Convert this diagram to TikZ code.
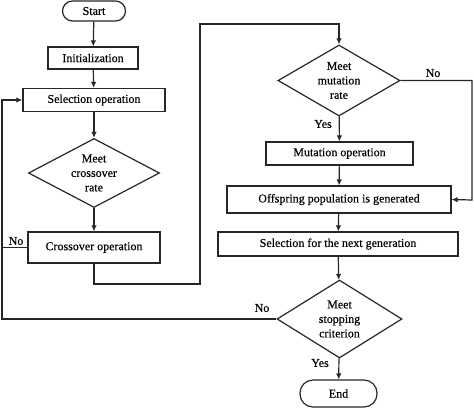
\documentclass[tikz,border=0pt]{standalone}
\usepackage{fontspec}
\setmainfont{Liberation Serif}[FakeBold=0.35]
\usetikzlibrary{shapes.geometric,arrows.meta}
\begin{document}
\begin{tikzpicture}[x=1pt,y=-1pt,
  every node/.style={font=\fontsize{12}{14.5}\selectfont},
  base/.style={draw=black!85,line width=1.2pt,inner sep=0pt,align=center},
  procbox/.style={base,rectangle},
  termbox/.style={base,rectangle,rounded corners=10pt},
  decbox/.style={base,diamond,aspect=1.8},
  conn/.style={draw=black!85,line width=1.2pt},
  arr/.style={conn,-{Latex[length=6pt,width=5.5pt]}},
  lbl/.style={inner sep=0pt}]
\useasboundingbox (0,0) rectangle (474,408);
\node[termbox,minimum width=63pt,minimum height=20pt] (start) at (94,11) {Start};
\node[procbox,minimum width=90pt,minimum height=22pt] (init) at (93,58) {Initialization};
\node[procbox,minimum width=142pt,minimum height=23pt] (sel) at (94,100) {Selection operation};
\node[decbox,minimum width=131pt,minimum height=69pt] (cross) at (94,173) {Meet\\crossover\\rate};
\node[procbox,minimum width=132pt,minimum height=31pt] (crossop) at (94,247.5) {Crossover operation};
\node[decbox,minimum width=122pt,minimum height=71pt] (mut) at (339,80.5) {Meet\\mutation\\rate};
\node[procbox,minimum width=147pt,minimum height=23pt] (mutop) at (339.5,153.5) {Mutation operation};
\node[procbox,minimum width=224pt,minimum height=27pt] (offs) at (339,199.5) {Offspring population is generated};
\node[procbox,minimum width=240pt,minimum height=24pt] (selnext) at (338,244) {Selection for the next generation};
\node[decbox,minimum width=125pt,minimum height=78pt] (stop) at (339.5,319) {Meet\\stopping\\criterion};
\node[termbox,minimum width=77pt,minimum height=27pt,rounded corners=13pt] (end) at (338.5,393.5) {End};
\coordinate (lb) at (2,247.5);
\coordinate (lbot) at (2,319);
\coordinate (ltop) at (2,100);
\coordinate (c1) at (94,284);
\coordinate (c2) at (200,284);
\coordinate (c3) at (200,24);
\coordinate (c4) at (339,24);
\coordinate (m1) at (472,80.5);
\coordinate (m2) at (472,200);
\node[lbl] (no1) at (16,241) {No};
\node[lbl] (no2) at (262,308) {No};
\node[lbl] (no3) at (433,73) {No};
\node[lbl] (yes1) at (323,124) {Yes};
\node[lbl] (yes2) at (320,363) {Yes};
\draw[arr] (start) -- (init);
\draw[arr] (init) -- (sel);
\draw[arr] (sel) -- (cross);
\draw[arr] (cross) -- (crossop);
\draw[conn] (crossop.west) -- (lb);
\draw[arr] (stop.west) -- (lbot) -- (ltop) -- (sel.west);
\draw[arr] (crossop.south) -- (c1) -- (c2) -- (c3) -- (c4) -- (mut.north);
\draw[arr] (mut.east) -- (m1) -- (m2) -- (offs.east);
\draw[arr] (mut) -- (mutop);
\draw[arr] (mutop) -- (offs);
\draw[arr] (offs) -- (selnext);
\draw[arr] (selnext) -- (stop);
\draw[arr] (stop) -- (end);
\end{tikzpicture}
\end{document}
